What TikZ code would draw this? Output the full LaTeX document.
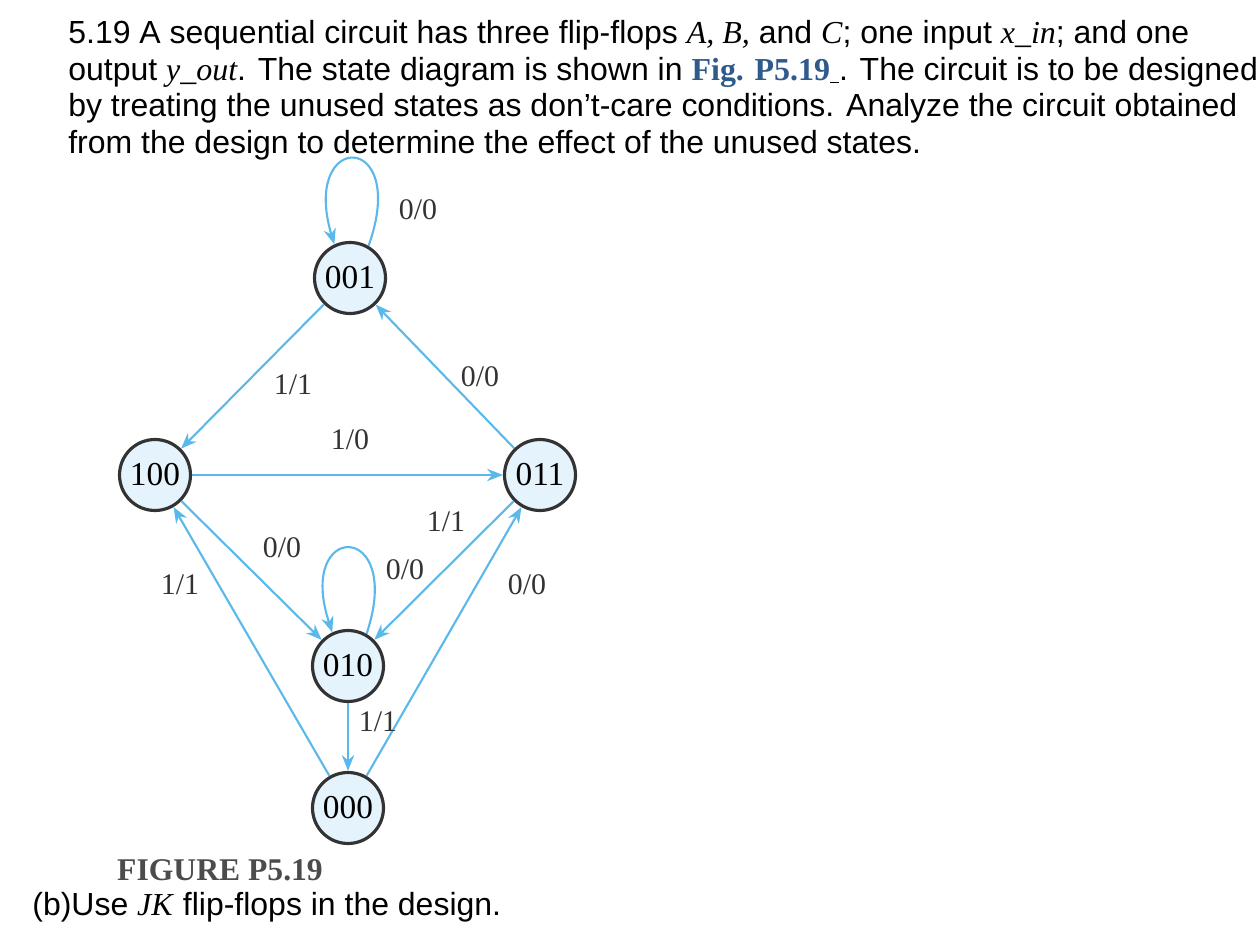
\documentclass[tikz,border=0pt]{standalone}
\usepackage{fontspec}
\setmainfont{Liberation Serif}
\newfontfamily\sans{Liberation Sans}
\usetikzlibrary{arrows.meta}
\definecolor{edgec}{HTML}{5BB8EA}
\definecolor{fillc}{HTML}{E4F3FC}
\definecolor{figblue}{HTML}{2F5B8C}
\begin{document}
\begin{tikzpicture}[x=0.02cm,y=-0.02cm,
  state/.style={circle,draw=black!80,line width=1.8pt,fill=fillc,minimum size=1.42cm,inner sep=0pt,font=\fontsize{19}{21}\selectfont},
  tr/.style={draw=edgec,line width=1.2pt,-{Stealth[length=9pt,width=7pt]}},
  lab/.style={font=\fontsize{17}{19}\selectfont,text=black!80},
  txt/.style={anchor=west,inner sep=0pt,font=\sans\fontsize{18.2}{22}\selectfont}]
\useasboundingbox (0,0) rectangle (1258,932);
\node[txt] (t1) at (68,35) {5.19 A sequential circuit has three flip-flops \textrm{\itshape A, B,} and \textrm{\itshape C}; one input \textrm{\itshape x\_in}; and one};
\node[txt] (t2) at (68,72) {output \textrm{\itshape y\_out}. The state diagram is shown in \textcolor{figblue}{\rmfamily\bfseries Fig. P5.19}\underline{\ }. The circuit is to be designed};
\node[txt] (t3) at (68,108) {by treating the unused states as don’t-care conditions. Analyze the circuit obtained};
\node[txt] (t4) at (68,145) {from the design to determine the effect of the unused states.};
\node[state] (s001) at (350,278) {001};
\node[state] (s100) at (155,475) {100};
\node[state] (s011) at (540,475) {011};
\node[state] (s010) at (348,666) {010};
\node[state] (s000) at (348,808) {000};
\draw[tr] (s001.60) .. controls (410,130) and (300,130) .. (s001.115);
\node[lab] (l1) at (418,210) {0/0};
\draw[tr] (s001) -- (s100); \node[lab] (l2) at (293,385) {1/1};
\draw[tr] (s011) -- (s001); \node[lab] (l3) at (480,377) {0/0};
\draw[tr] (s100) -- (s011); \node[lab] (l4) at (350,440) {1/0};
\draw[tr] (s100) -- (s010); \node[lab] (l5) at (282,548) {0/0};
\draw[tr] (s000) -- (s100); \node[lab] (l6) at (180,585) {1/1};
\draw[tr] (s011) -- (s010); \node[lab] (l7) at (446,522) {1/1};
\draw[tr] (s000) -- (s011); \node[lab] (l8) at (527,585) {0/0};
\draw[tr] (s010.60) .. controls (405,520) and (295,520) .. (s010.115);
\node[lab] (l9) at (405,570) {0/0};
\draw[tr] (s010) -- (s000); \node[lab] (l10) at (378,722) {1/1};
\node[font=\bfseries\fontsize{18}{20}\selectfont,text=black!70] (cap) at (220,870) {FIGURE P5.19};
\node[txt] (b) at (32,907) {(b)Use \textrm{\itshape JK} flip-flops in the design.};
\end{tikzpicture}
\end{document}
